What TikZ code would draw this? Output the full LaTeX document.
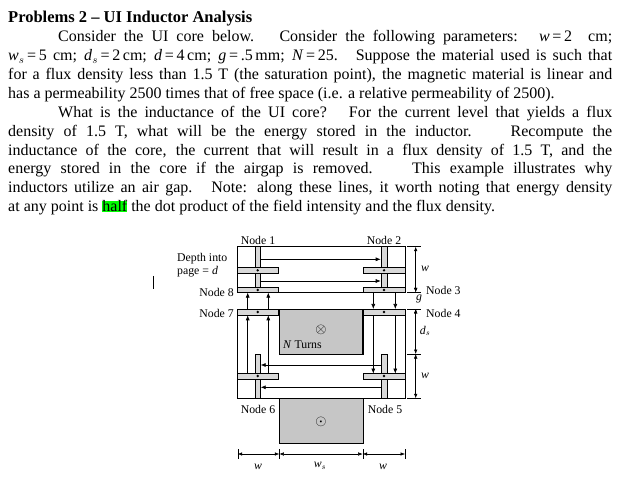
\documentclass[tikz,border=0pt]{standalone}
\usepackage{fontspec}
\setmainfont{Liberation Serif}
\usetikzlibrary{arrows.meta}
\definecolor{hl}{HTML}{00FF00}
\definecolor{coil}{HTML}{C6C6C6}
\definecolor{bar}{HTML}{D9D9D9}
\newcommand{\jl}[1]{\makebox[604pt][s]{#1}}
\newcommand{\vi}[1]{\textit{#1}}
\begin{document}
\begin{tikzpicture}[x=1pt,y=-1pt,
  txt/.style={anchor=base west,inner sep=0pt,font=\fontsize{16}{18}\selectfont},
  lab/.style={inner sep=0pt,font=\fontsize{11.8}{13}\selectfont},
  core/.style={draw,line width=0.8pt,fill=white},
  coilbox/.style={draw,line width=0.8pt,fill=coil},
  barbox/.style={draw,line width=0.5pt,fill=bar},
  fl/.style={line width=0.6pt,-{Latex[length=5pt,width=4pt]}},
  dim/.style={line width=0.5pt,{Latex[length=4.5pt,width=3.5pt]}-{Latex[length=4.5pt,width=3.5pt]}},
  ext/.style={line width=0.4pt}]
\useasboundingbox (0,0) rectangle (627,481);
% text
\node[txt,font=\fontsize{16.5}{18}\bfseries] (t0) at (8,23) {Problems 2 – UI Inductor Analysis};
\node[txt] (t1) at (58,42) {\makebox[554pt][s]{Consider the UI core below. \ Consider the following parameters: \ \vi{w}\,=\,2 \ cm;}};
\node[txt] (t2) at (8,61) {\jl{\vi{w}$_s$\,=\,5 cm; \vi{d}$_s$\,=\,2\,cm; \vi{d}\,=\,4\,cm; \vi{g}\,=\,.5\,mm; \vi{N}\,=\,25. \ Suppose the material used is such that}};
\node[txt] (t3) at (8,80) {\jl{for a flux density less than 1.5 T (the saturation point), the magnetic material is linear and}};
\node[txt] (t4) at (8,99) {has a permeability 2500 times that of free space (i.e. a relative permeability of 2500).};
\node[txt] (t5) at (58,118) {\makebox[554pt][s]{What is the inductance of the UI core? \ For the current level that yields a flux}};
\node[txt] (t6) at (8,137) {\jl{density of 1.5 T, what will be the energy stored in the inductor. \ \ Recompute the}};
\node[txt] (t7) at (8,156) {\jl{inductance of the core, the current that will result in a flux density of 1.5 T, and the}};
\node[txt] (t8) at (8,174) {\jl{energy stored in the core if the airgap is removed. \ \ This example illustrates why}};
\node[txt] (t9) at (8,193) {\jl{inductors utilize an air gap. \ Note: along these lines, it worth noting that energy density}};
\node[txt] (t10) at (8,212) {at any point is {\setlength\fboxsep{0pt}\colorbox{hl}{half}} the dot product of the field intensity and the flux density.};
% stray tick
\coordinate (tk1) at (153,276); \coordinate (tk2) at (153,289);
\draw[line width=0.5pt] (tk1) -- (tk2);
% coils
\node[coilbox,minimum width=83.4pt,minimum height=45.3pt,anchor=north west] (coilA) at (279.3,309) {};
\node[coilbox,minimum width=83.4pt,minimum height=45pt,anchor=north west] (coilB) at (279.3,398.3) {};
% core
\path[core] (237.7,246.7) rectangle (405,292.3);
\draw[line width=0.8pt,fill=coil] (279.3,309) rectangle (362.7,354);
% flux arrows
\foreach \y in {259.3,281}{\draw[fl] (260.7,\y) -- (380.7,\y);}
\foreach \y in {365,387.3}{\draw[fl] (380.7,\y) -- (260.7,\y);}
\foreach \x in {247.7,268.3}{\draw[fl] (\x,374) -- (\x,315.3); \draw[fl] (\x,309) -- (\x,292.6);}
\foreach \x in {373.3,395.3}{\draw[fl] (\x,292.3) -- (\x,309); \draw[fl] (\x,315.3) -- (\x,373.6);}
% flux tube bars
\foreach \cx in {257.7,384}{
  \draw[barbox] (\cx-2.8,246.7) rectangle (\cx+2.8,292.3);
  \draw[barbox] (\cx-20.8,267.3) rectangle (\cx+20.8,273.3);
  \draw[barbox] (\cx-20.8,287.3) rectangle (\cx+20.8,292.6);
  \draw[barbox] (\cx-20.8,309) rectangle (\cx+20.8,314.8);
  \draw[barbox] (\cx-2.8,354) rectangle (\cx+2.8,398.3);
  \draw[barbox] (\cx-20.8,373) rectangle (\cx+20.8,379);
  \fill (\cx,270.3) circle (1.3pt);
  \fill (\cx,290) circle (1.3pt);
  \fill (\cx,312) circle (1.3pt);
  \fill (\cx,376) circle (1.3pt);
}
\draw[line width=0.8pt] (237.7,246.7) rectangle (405,292.3);
\draw[line width=0.8pt] (237.7,309) -- (237.7,398.3) -- (405,398.3) -- (405,309) -- (362.7,309) -- (362.7,354) -- (279.3,354) -- (279.3,309) -- cycle;
% symbols
\node[lab,font=\fontsize{15}{15}\selectfont] (cross) at (321,330) {$\otimes$};
\node[lab,font=\fontsize{15}{15}\selectfont] (dot) at (321,422) {$\odot$};
\node[lab,anchor=west] (nt) at (283,345) {\vi{N} Turns};
% labels
\node[lab] (n1) at (258,240) {Node 1};
\node[lab] (n2) at (384,240) {Node 2};
\node[lab,anchor=west,align=left] (depth) at (177,265) {Depth into\\page = \vi{d}};
\node[lab,anchor=east] (n8) at (234,292) {Node 8};
\node[lab,anchor=east] (n7) at (234,313) {Node 7};
\node[lab] (n6) at (258,409) {Node 6};
\node[lab] (n5) at (385,409) {Node 5};
\node[lab,anchor=west] (n3) at (426,290) {Node 3};
\node[lab,anchor=west] (n4) at (426,313) {Node 4};
% right dimensions
\foreach \y in {246.7,292.3,309,354,398.3}{\draw[ext] (407,\y) -- (421,\y);}
\coordinate (r1) at (415.7,246.7); \coordinate (r2) at (415.7,292.3);
\coordinate (r3) at (415.7,309); \coordinate (r4) at (415.7,354); \coordinate (r5) at (415.7,398.3);
\draw[dim] (r1) -- (r2);
\draw[dim] (r3) -- (r4);
\draw[dim] (r4) -- (r5);
\draw[line width=0.5pt,-{Latex[length=4.5pt,width=3.5pt]}] (415.7,284) -- (r2);
\draw[line width=0.5pt,-{Latex[length=4.5pt,width=3.5pt]}] (415.7,317) -- (r3);
\node[lab] (lw1) at (425,269) {\vi{w}};
\node[lab] (lg) at (419,299) {\vi{g}};
\node[lab] (lds) at (425,331) {\vi{d}$_s$};
\node[lab] (lw2) at (425,376) {\vi{w}};
% bottom dimensions
\foreach \x in {237.7,279.3,362.7,405}{\draw[ext] (\x,449) -- (\x,459);}
\coordinate (b1) at (237.7,454); \coordinate (b2) at (279.3,454);
\coordinate (b3) at (362.7,454); \coordinate (b4) at (405,454);
\draw[dim] (b1) -- (b2); \draw[dim] (b2) -- (b3); \draw[dim] (b3) -- (b4);
\node[lab] (bw1) at (258,467) {\vi{w}};
\node[lab] (bws) at (320,466) {\vi{w}$_s$};
\node[lab] (bw2) at (383,467) {\vi{w}};
\end{tikzpicture}
\end{document}
